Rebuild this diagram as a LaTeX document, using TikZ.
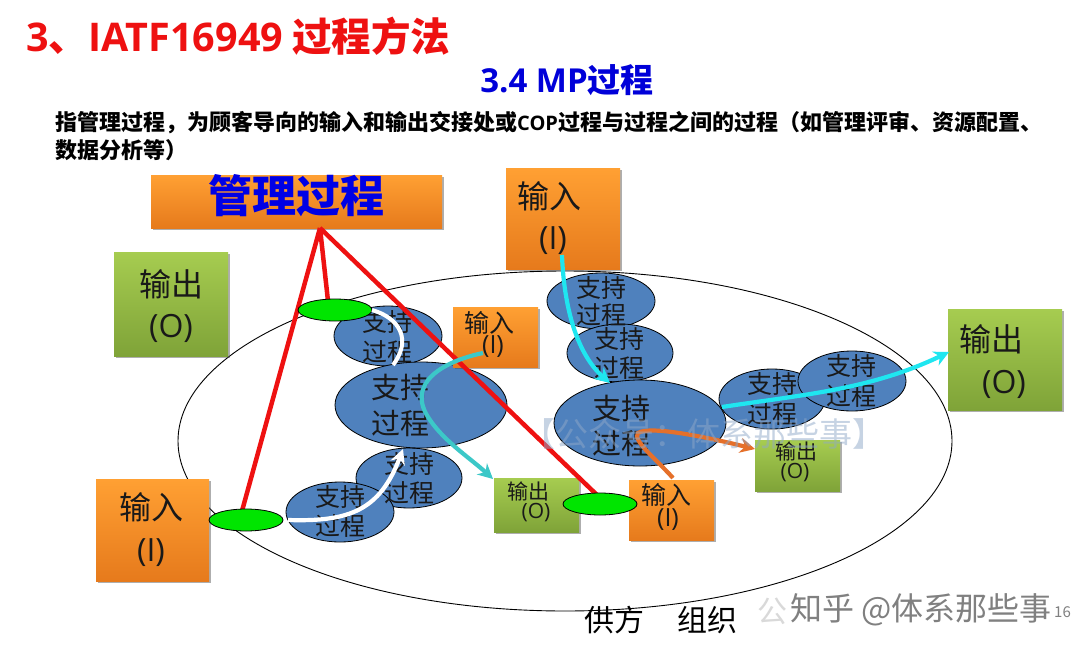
\documentclass[tikz,border=0pt]{standalone}
\usepackage{fontspec}
\setmainfont{Noto Sans CJK SC}
\newfontfamily\lat{Open Sans}
\usetikzlibrary{shapes.geometric,arrows.meta,shadows}
\definecolor{procblue}{HTML}{4F81BD}
\definecolor{orgtop}{HTML}{FFA033}
\definecolor{orgbot}{HTML}{E67A1C}
\definecolor{grntop}{HTML}{A6CC50}
\definecolor{grnbot}{HTML}{7FA338}
\definecolor{tealc}{HTML}{3CC8C8}
\definecolor{cyanc}{HTML}{1FE6F0}
\definecolor{oranc}{HTML}{E5702A}
\definecolor{redc}{HTML}{EE1111}
\definecolor{wmblue}{HTML}{8FA8C8}
\tikzset{
  x=1pt,y=-1pt,
  boxbase/.style={rectangle,anchor=north west,inner sep=0pt,draw=none,
    drop shadow={shadow xshift=1.5pt,shadow yshift=-2pt,opacity=.45,fill=black!70}},
  orangebox/.style={boxbase,top color=orgtop,bottom color=orgbot},
  greenbox/.style={boxbase,top color=grntop,bottom color=grnbot},
  proc/.style={ellipse,draw=black,line width=.8pt,fill=procblue,inner sep=0pt},
  junction/.style={ellipse,draw=black,line width=.8pt,fill=green!90!black,minimum width=74pt,minimum height=22pt,inner sep=0pt},
  txt/.style={inner sep=0pt,text=black!90},
  tbig/.style={txt,font=\fontsize{32}{32}\selectfont},
  tmid/.style={txt,font=\fontsize{25}{25}\selectfont},
  tsml/.style={txt,font=\fontsize{21}{21}\selectfont},
  tg/.style={txt,font=\fontsize{29}{29}\selectfont},
  redline/.style={draw=redc,line width=4.5pt},
  flow/.style={line width=4.2pt,-{Stealth[length=15pt,width=15pt]}},
}
\begin{document}
\begin{tikzpicture}
\useasboundingbox (0,0) rectangle (1080,656);
\fill[white] (0,0) rectangle (1080,656);

% headings
\node[inner sep=0pt,anchor=west,text=redc,font=\fontsize{39.5}{40}\selectfont\bfseries] (title) at (26,36) {{\lat 3}、{\lat IATF16949} 过程方法};
\node[inner sep=0pt,text=blue!85!black,font=\fontsize{33}{33}\selectfont\bfseries] (sub) at (567,80) {{\lat 3.4 MP}过程};
\node[inner sep=0pt,anchor=west,font=\fontsize{22}{22}\selectfont\bfseries] (l1) at (55,123) {指管理过程，为顾客导向的输入和输出交接处或{\lat\fontsize{20}{20}\selectfont COP}过程与过程之间的过程（如管理评审、资源配置、};
\node[inner sep=0pt,anchor=west,font=\fontsize{22}{22}\selectfont\bfseries] (l2) at (55,150) {数据分析等）};

% organisation ellipse
\node[ellipse,draw=black,line width=.9pt,minimum width=774pt,minimum height=340pt,inner sep=0pt] (org) at (565,441) {};

% support processes
\node[proc,minimum width=108pt,minimum height=60pt] (pa) at (388,336) {};
\node[proc,minimum width=106pt,minimum height=60pt] (pc) at (409,478) {};
\node[proc,minimum width=108pt,minimum height=60pt] (pd) at (340,512) {};
\node[proc,minimum width=172pt,minimum height=86pt] (pb) at (421,405) {};
\node[proc,minimum width=108pt,minimum height=56pt] (pe) at (601,301) {};
\node[proc,minimum width=106pt,minimum height=58pt] (pf) at (620,353) {};
\node[proc,minimum width=172pt,minimum height=86pt] (pg) at (640,423) {};
\node[proc,minimum width=106pt,minimum height=60pt] (ph) at (772,399) {};
\node[proc,minimum width=108pt,minimum height=60pt] (pi) at (852,381) {};

\node[tmid] (ta1) at (387,322) {支持};
\node[tmid] (ta2) at (387,352) {过程};
\node[tmid] (tc1) at (409,464) {支持};
\node[tmid] (tc2) at (409,493) {过程};
\node[tmid] (td1) at (340,497) {支持};
\node[tmid] (td2) at (340,526) {过程};
\node[tg] (tb1) at (400,387) {支持};
\node[tg] (tb2) at (400,423) {过程};
\node[tmid] (te1) at (601,288) {支持};
\node[tmid] (te2) at (601,315) {过程};
\node[tmid] (tf1) at (619,339) {支持};
\node[tmid] (tf2) at (619,368) {过程};
\node[tg] (tg1) at (621,408) {支持};
\node[tg] (tg2) at (621,443) {过程};
\node[tmid] (th1) at (772,384) {支持};
\node[tmid] (th2) at (772,414) {过程};
\node[tmid] (ti1) at (851,366) {支持};
\node[tmid] (ti2) at (851,396) {过程};

% boxes
\node[orangebox,minimum width=291pt,minimum height=53pt] (mgmt) at (151,175) {};
\node[inner sep=0pt,text=blue!90!black,font=\fontsize{44}{44}\selectfont\bfseries] (mgmtt) at (296,196) {管理过程};

\node[orangebox,minimum width=114pt,minimum height=101pt] (inA) at (506,168) {};
\node[tbig] (inA1) at (549,196) {输入};
\node[tbig] (inA2) at (553,241) {\lat (I)};
\node[greenbox,minimum width=114pt,minimum height=104pt] (outA) at (114,252) {};
\node[tbig] (outA1) at (171,284) {输出};
\node[tbig] (outA2) at (171,328) {\lat (O)};
\node[orangebox,minimum width=85pt,minimum height=60pt] (inB) at (453,307) {};
\node[tmid] (inB1) at (489,323) {输入};
\node[tmid] (inB2) at (493,347) {\lat (I)};
\node[greenbox,minimum width=114pt,minimum height=101pt] (outB) at (948,309) {};
\node[tbig] (outB1) at (991,339) {输出};
\node[tbig] (outB2) at (1004,384) {\lat (O)};
\node[orangebox,minimum width=113pt,minimum height=102pt] (inC) at (96,479) {};
\node[tbig] (inC1) at (151,507) {输入};
\node[tbig] (inC2) at (151,553) {\lat (I)};
\node[greenbox,minimum width=85pt,minimum height=54pt] (outC) at (494,478) {};
\node[tsml] (outC1) at (528,491) {输出};
\node[tsml] (outC2) at (536,513) {\lat (O)};
\node[orangebox,minimum width=85pt,minimum height=60pt] (inD) at (629,480) {};
\node[tmid] (inD1) at (666,495) {输入};
\node[tmid] (inD2) at (668,520) {\lat (I)};
\node[greenbox,minimum width=85pt,minimum height=51pt] (outD) at (755,440) {};
\node[tsml] (outD1) at (796,451) {输出};
\node[tsml] (outD2) at (795,473) {\lat (O)};

% junction ellipses
\coordinate (apex) at (320,228);
\coordinate (ja) at (328,301);
\coordinate (jb) at (242,511);
\coordinate (jc) at (597,495);
\draw[redline] (apex) -- (ja);
\draw[redline] (apex) -- (jb);
\draw[redline] (apex) -- (jc);
\node[junction] (gA) at (335,310) {};
\node[junction] (gB) at (246,520) {};
\node[junction] (gC) at (600,504) {};

% flows
\coordinate (wa) at (288,520);
\coordinate (wb) at (403,449);
\coordinate (wc) at (372,310);
\coordinate (wd) at (393,365);
\draw[flow,white] (wa) .. controls (350,522) and (380,510) .. (wb);
\draw[white,line width=4pt] (wc) .. controls (400,318) and (412,340) .. (wd);
\coordinate (ta) at (483,353);
\coordinate (tb) at (493,479);
\draw[flow,tealc] (ta) .. controls (440,362) and (405,385) .. (430,420) .. controls (445,442) and (470,458) .. (tb);
\coordinate (ca) at (562,255);
\coordinate (cb) at (610,383);
\draw[flow,cyanc] (ca) .. controls (564,310) and (578,355) .. (cb);
\coordinate (cc) at (722,407);
\coordinate (cd) at (949,352);
\draw[flow,cyanc] (cc) .. controls (800,395) and (870,390) .. (cd);
\coordinate (oa) at (673,478);
\coordinate (ob) at (755,449);
\draw[flow,oranc] (oa) .. controls (655,458) and (632,440) .. (638,433) .. controls (650,425) and (710,438) .. (ob);

% bottom text and watermarks
\node[inner sep=0pt,font=\fontsize{30}{30}\selectfont] (sup) at (614,620) {供方};
\node[inner sep=0pt,font=\fontsize{30}{30}\selectfont] (orgt) at (707,620) {组织};
\node[inner sep=0pt,text=wmblue,opacity=.5,font=\fontsize{33}{33}\selectfont] (wm) at (704,434) {【公众号：体系那些事】};
\node[inner sep=0pt,text=black!15,font=\fontsize{30}{30}\selectfont] (wm3) at (772,611) {公};
\node[inner sep=0pt,anchor=west,text=black!50,font=\fontsize{32}{32}\selectfont] (wm2) at (790,610) {知乎 @体系那些事};
\node[inner sep=0pt,anchor=west,text=black!50,font=\fontsize{15}{15}\selectfont] (pg16) at (1054,612) {16};
\end{tikzpicture}
\end{document}
